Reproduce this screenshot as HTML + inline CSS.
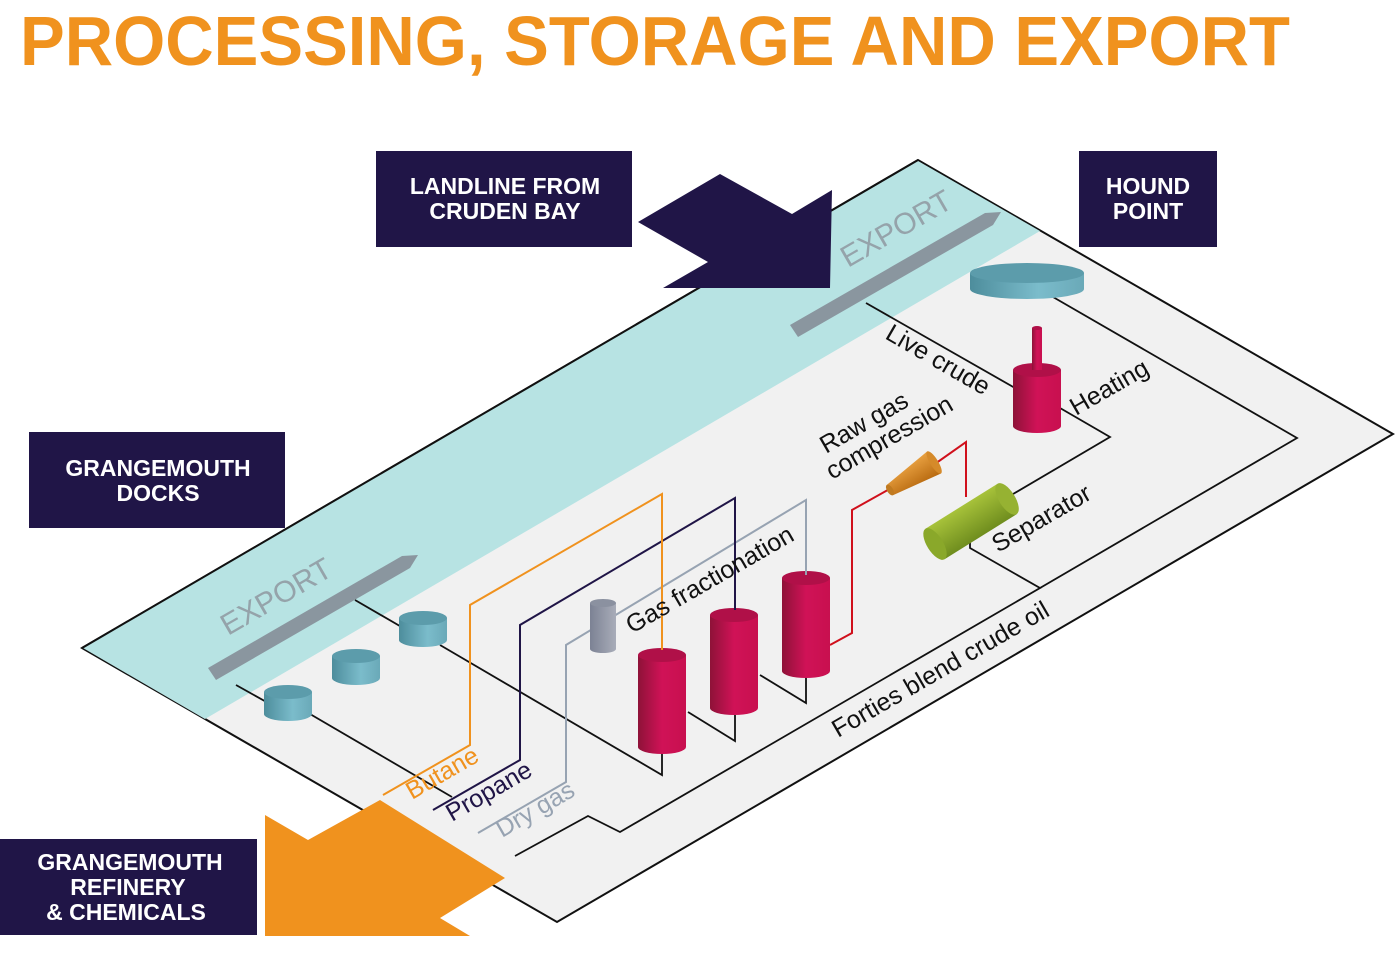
<!DOCTYPE html>
<html><head><meta charset="utf-8"><style>
body{margin:0;background:#fff;width:1400px;height:968px;overflow:hidden;font-family:"Liberation Sans",sans-serif}
</style></head><body>
<svg width="1400" height="968" viewBox="0 0 1400 968" xmlns="http://www.w3.org/2000/svg">
<defs>
<linearGradient id="red" x1="0" x2="1"><stop offset="0" stop-color="#8e1238"/><stop offset="0.5" stop-color="#d01257"/><stop offset="1" stop-color="#c8104f"/></linearGradient>
<linearGradient id="teal" x1="0" x2="1"><stop offset="0" stop-color="#4d8d9c"/><stop offset="0.6" stop-color="#7bbccb"/><stop offset="1" stop-color="#6aa9b8"/></linearGradient>
<linearGradient id="grey" x1="0" x2="1"><stop offset="0" stop-color="#7c8294"/><stop offset="1" stop-color="#a9adb9"/></linearGradient>
<linearGradient id="green" x1="0" y1="0" x2="0" y2="1"><stop offset="0" stop-color="#a7c23a"/><stop offset="1" stop-color="#6f8d1e"/></linearGradient>
<linearGradient id="orng" x1="0" y1="0" x2="0" y2="1"><stop offset="0" stop-color="#e8a040"/><stop offset="1" stop-color="#b86a10"/></linearGradient>
</defs>
<text x="20" y="65" font-size="70" font-weight="bold" fill="#f0921e" font-family="Liberation Sans,sans-serif" textLength="1270" lengthAdjust="spacingAndGlyphs">PROCESSING, STORAGE AND EXPORT</text>

<polygon points="82,648 918,160 1393,434 557,922" fill="#f1f1f1" stroke="#111" stroke-width="2"/>
<polygon points="83,648 918,161 1040,231 205,719" fill="#b7e3e3"/>
<line x1="82" y1="648" x2="918" y2="160" stroke="#111" stroke-width="2"/>

<polygon points="208,668 402,556 418,555 410,568 216,680" fill="#8a969f"/>
<polygon points="790,325 985,213 1001,212 993,225 798,337" fill="#8a969f"/>
<text transform="translate(228,636) rotate(-30)" font-size="30" fill="#95a3aa">EXPORT</text>
<text transform="translate(848,268) rotate(-30)" font-size="30" fill="#95a3aa">EXPORT</text>

<g fill="none" stroke="#111" stroke-width="1.8">
<polyline points="355,600 405,629"/>
<polyline points="440,645 662,775 662,750"/>
<polyline points="236,685 270,704"/>
<polyline points="310,714 452,797"/>
<polyline points="688,712 735,741 735,715"/>
<polyline points="760,675 806,703 806,676"/>
<polyline points="515,856 588,816 620,832 1040,588 970,548 970,535"/>
<polyline points="1040,588 1297,438 1053,297"/>
<polyline points="1008,497 1110,437 1060,408"/>
<polyline points="866,303 1015,388"/>
</g>
<g fill="none" stroke-width="2">
<polyline points="383,795 470,745 470,605 662,494 662,650" stroke="#f0921e"/>
<polyline points="433,810 520,760 520,625 735,498 735,610" stroke="#201547"/>
<polyline points="478,833 566,782 566,645 806,500 806,575" stroke="#97a3b2"/>
<polyline points="830,645 852,633 852,510 895,486" stroke="#d0101c"/>
<polyline points="915,478 966,442 966,497" stroke="#d0101c"/>
</g>

<g fill="url(#teal)">
<path d="M264,692 v22 a24,7 0 0 0 48,0 v-22z"/><ellipse cx="288" cy="692" rx="24" ry="7" fill="#5c9cab"/>
<path d="M332,656 v22 a24,7 0 0 0 48,0 v-22z"/><ellipse cx="356" cy="656" rx="24" ry="7" fill="#5c9cab"/>
<path d="M399,618 v22 a24,7 0 0 0 48,0 v-22z"/><ellipse cx="423" cy="618" rx="24" ry="7" fill="#5c9cab"/>
<path d="M970,273 v16 a57,10 0 0 0 114,0 v-16z"/><ellipse cx="1027" cy="273" rx="57" ry="10" fill="#5c9cab"/>
</g>
<path d="M590,603 v46 a13,4 0 0 0 26,0 v-46z" fill="url(#grey)"/><ellipse cx="603" cy="603" rx="13" ry="4" fill="#8b91a0"/>
<g fill="url(#red)">
<path d="M638,655 v92 a24,7 0 0 0 48,0 v-92z"/><ellipse cx="662" cy="655" rx="24" ry="7" fill="#b01048"/>
<path d="M710,615 v93 a24,7 0 0 0 48,0 v-93z"/><ellipse cx="734" cy="615" rx="24" ry="7" fill="#b01048"/>
<path d="M782,578 v93 a24,7 0 0 0 48,0 v-93z"/><ellipse cx="806" cy="578" rx="24" ry="7" fill="#b01048"/>
<path d="M1013,370 v56 a24,7 0 0 0 48,0 v-56z"/><ellipse cx="1037" cy="370" rx="24" ry="7" fill="#b01048"/>
<path d="M1032,328 v42 h10 v-42z"/><ellipse cx="1037" cy="328" rx="5" ry="2" fill="#b01048"/>
</g>
<line x1="662" y1="494" x2="662" y2="650" stroke="#f0921e" stroke-width="2"/>
<line x1="735" y1="498" x2="735" y2="610" stroke="#201547" stroke-width="2"/>
<line x1="806" y1="500" x2="806" y2="575" stroke="#97a3b2" stroke-width="2"/>
<g transform="translate(935,544) rotate(-32)">
<rect x="0" y="-18" width="85" height="36" fill="url(#green)"/>
<ellipse cx="85" cy="0" rx="8" ry="18" fill="#96b232"/>
<ellipse cx="0" cy="0" rx="8" ry="18" fill="#8aa82a"/>
</g>
<line x1="966" y1="470" x2="966" y2="497" stroke="#d0101c" stroke-width="2"/>
<g transform="translate(890,490) rotate(-32)">
<polygon points="0,-6 52,-13 52,13 0,6" fill="url(#orng)"/>
<ellipse cx="52" cy="0" rx="4" ry="13" fill="#d58a2a"/>
<ellipse cx="0" cy="0" rx="3" ry="6" fill="#c07a20"/>
</g>

<g font-size="25" fill="#111">
<text transform="translate(884,338) rotate(30)">Live crude</text>
<text transform="translate(1076,416) rotate(-30)">Heating</text>
<text transform="translate(826,454) rotate(-30)">Raw gas</text>
<text transform="translate(832,480) rotate(-30)">compression</text>
<text transform="translate(998,553) rotate(-30)">Separator</text>
<text transform="translate(838,738) rotate(-30)">Forties blend crude oil</text>
<text transform="translate(632,634) rotate(-30)">Gas fractionation</text>
<text transform="translate(412,800) rotate(-30)" fill="#f0921e">Butane</text>
<text transform="translate(452,822) rotate(-30)" fill="#201547">Propane</text>
<text transform="translate(502,838) rotate(-30)" fill="#97a3b2">Dry gas</text>
</g>

<polygon points="638,222 720,174 792,214 832,190 830,288 663,288 708,262" fill="#201547"/>
<polygon points="265,815 265,936 470,936 440,918 505,878 380,800 308,840" fill="#f0921e"/>

<g fill="#201547">
<rect x="376" y="151" width="256" height="96"/>
<rect x="1079" y="151" width="138" height="96"/>
<rect x="29" y="432" width="256" height="96"/>
<rect x="0" y="839" width="257" height="96"/>
</g>
<g fill="#fff" font-size="23" font-weight="bold" text-anchor="middle" font-family="Liberation Sans,sans-serif">
<text x="505" y="194">LANDLINE FROM</text><text x="505" y="219">CRUDEN BAY</text>
<text x="1148" y="194">HOUND</text><text x="1148" y="219">POINT</text>
<text x="158" y="476">GRANGEMOUTH</text><text x="158" y="501">DOCKS</text>
<text x="130" y="870">GRANGEMOUTH</text><text x="128" y="895">REFINERY</text><text x="126" y="920">&amp; CHEMICALS</text>
</g>
</svg>
</body></html>
